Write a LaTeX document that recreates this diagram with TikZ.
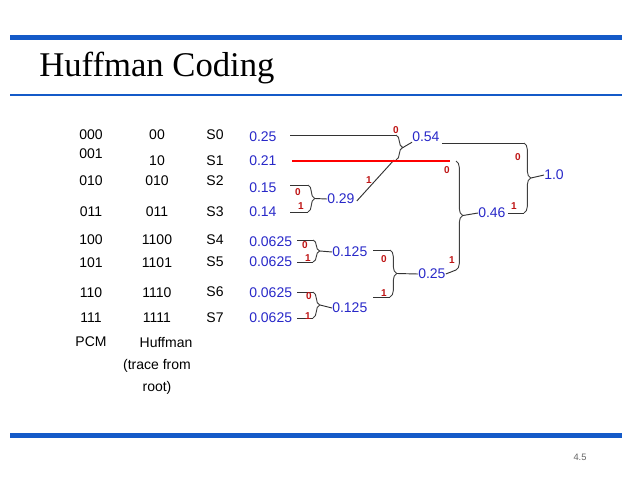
\documentclass[tikz,border=0pt]{standalone}
\usepackage{fontspec}
\setmainfont{Liberation Sans}
\newfontfamily\titlefont{Liberation Serif}
\usetikzlibrary{decorations.pathreplacing}
\definecolor{barblue}{RGB}{20,90,200}
\definecolor{numblue}{RGB}{40,40,200}
\definecolor{bitred}{RGB}{190,20,20}
\begin{document}
\begin{tikzpicture}[x=0.75pt,y=-0.75pt,
  txt/.style={font=\fontsize{10.5}{12}\selectfont,inner sep=0pt},
  num/.style={txt,text=numblue,anchor=west},
  bit/.style={font=\bfseries\fontsize{7.5}{8}\selectfont,text=bitred,inner sep=0pt},
  br/.style={decorate,decoration={brace,amplitude=5pt},draw=black!75,line width=0.7pt},
  ln/.style={draw=black!80,line width=0.7pt}]
\useasboundingbox (0,0) rectangle (638,478);
\fill[barblue] (10,35) rectangle (622,40);
\draw[barblue,line width=1.2pt] (10,95) -- (622,95);
\fill[barblue] (10,433) rectangle (622,438);
\node[anchor=west,inner sep=0pt,font=\titlefont\fontsize{26}{30}\selectfont] (title) at (39,68) {Huffman Coding};
\node[font=\fontsize{7}{8}\selectfont,text=black!60] (pg) at (580,457) {4.5};
% columns
\foreach \v/\y [count=\i] in {000/135,001/154,010/181,011/212,100/240,101/263,110/293,111/318}
  \node[txt] (p\i) at (91,\y) {\v};
\node[txt] (pcm) at (91,342) {PCM};
\foreach \v/\y [count=\i] in {00/135,10/161,010/181,011/212,1100/240,1101/263,1110/293,1111/318}
  \node[txt] (h\i) at (157,\y) {\v};
\node[txt] (huff) at (166,342) {Huffman};
\node[txt,align=center] (tr) at (157,377) {(trace from\\[4pt]root)};
\foreach \y [count=\i from 0] in {135,161,181,212,240,262,292,318}
  \node[txt] (s\i) at (215,\y) {S\i};
% probabilities
\node[num] (q0) at (249,137) {0.25};
\node[num] (q1) at (249,161) {0.21};
\node[num] (q2) at (249,188) {0.15};
\node[num] (q3) at (249,212) {0.14};
\node[num] (q4) at (249,242) {0.0625};
\node[num] (q5) at (249,262) {0.0625};
\node[num] (q6) at (249,293) {0.0625};
\node[num] (q7) at (249,318) {0.0625};
\node[num] (n29) at (327,199) {0.29};
\node[num] (n54) at (412,137) {0.54};
\node[num] (a125) at (332,252) {0.125};
\node[num] (b125) at (332,308) {0.125};
\node[num] (n25) at (418,274) {0.25};
\node[num] (n46) at (478,213) {0.46};
\node[num] (n10) at (544,175) {1.0};
% 0.29
\draw[ln] (290,185) -- (308,185);
\draw[ln] (290,212) -- (308,212);
\draw[br] (308,185) -- (308,212);
\draw[ln] (315,198.5) -- (n29.west);
\draw[ln] (n29.east) ++(2,2) -- (394,160);
% 0.54
\draw[ln] (290,135) -- (396,135);
\draw[br] (396,135) -- (396,160);
\draw[ln] (403,147.5) -- (n54.south west);
% 0.46
\draw[ln] (n25.east) -- (456,270);
\draw[br] (456,161) -- (456,270);
\draw[ln] (463,215.5) -- (n46.west);
\draw[draw=red,line width=0.8pt] (292,161) -- (450,161);
% 0.125 pairs
\draw[ln] (297,240) -- (313,240); \draw[ln] (297,262) -- (313,262);
\draw[br] (313,240) -- (313,262);
\draw[ln] (320,251) -- (a125.west);
\draw[ln] (297,292) -- (313,292); \draw[ln] (297,318) -- (313,318);
\draw[br] (313,292) -- (313,318);
\draw[ln] (320,305) -- (b125.west);
% 0.25
\draw[ln] (373,250) -- (390,250); \draw[ln] (373,297) -- (390,297);
\draw[br] (390,250) -- (390,297);
\draw[ln] (397,273.5) -- (n25.west);
% 1.0
\draw[ln] (n54.east) ++(2,6) -- (524,143); \draw[ln] (n46.east) ++(2,0) -- (524,213);
\draw[br] (524,143) -- (524,213);
\draw[ln] (531,178) -- (n10.west);
% bits
\node[bit] (b1) at (396,130) {0};
\node[bit] (b2) at (369,180) {1};
\node[bit] (b3) at (298,192) {0};
\node[bit] (b4) at (301,206) {1};
\node[bit] (b5) at (305,245) {0};
\node[bit] (b6) at (308,258) {1};
\node[bit] (b7) at (309,296) {0};
\node[bit] (b8) at (308,316) {1};
\node[bit] (b9) at (384,259) {0};
\node[bit] (b10) at (384,293) {1};
\node[bit] (b11) at (447,170) {0};
\node[bit] (b12) at (452,260) {1};
\node[bit] (b13) at (518,157) {0};
\node[bit] (b14) at (514,206) {1};
\end{tikzpicture}
\end{document}
